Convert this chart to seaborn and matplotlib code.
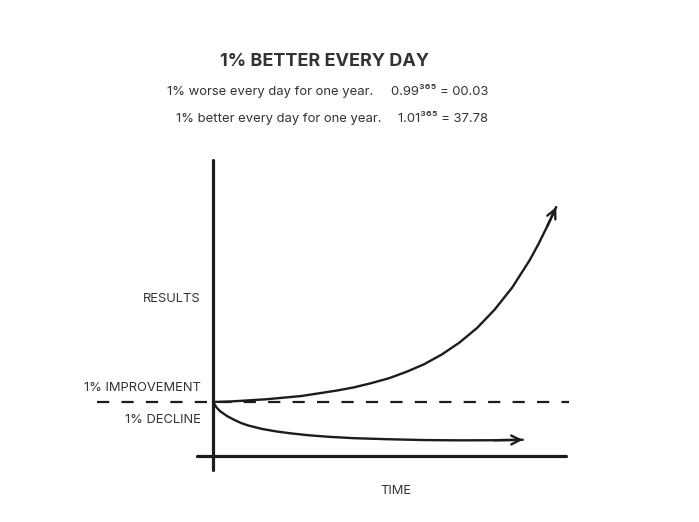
import matplotlib
matplotlib.use("Agg")
import matplotlib.pyplot as plt
import seaborn as sns

# values (time in % of a year, results relative to start = 1)
time_better = [0, 5, 10, 15, 20, 25, 30, 35, 40, 45, 50, 55, 60, 65, 70,
               75, 80, 85, 90, 92.5, 95, 97.5]
results_better = [1.0, 1.01, 1.03, 1.05, 1.08, 1.11, 1.16, 1.21, 1.27, 1.35,
                  1.44, 1.56, 1.70, 1.88, 2.10, 2.37, 2.71, 3.12, 3.63, 3.93,
                  4.26, 4.61]
time_worse = [0, 1, 2, 4, 6, 8, 10, 14, 18, 22, 27, 33, 40, 50, 60, 70, 80, 88]
results_worse = [1.0, 0.90, 0.83, 0.74, 0.67, 0.61, 0.565, 0.50, 0.455, 0.42,
                 0.385, 0.355, 0.33, 0.31, 0.295, 0.29, 0.292, 0.30]

title = "1% BETTER EVERY DAY"
line_worse = ("1% worse every day for one year.", "0.99³⁶⁵ = 00.03")
line_better = ("1% better every day for one year.", "1.01³⁶⁵ = 37.78")
axis_labels = {"x": "TIME", "y": "RESULTS"}
level_labels = ["1% IMPROVEMENT", "1% DECLINE"]

sns.set_theme(style="white")
plt.rcParams["font.family"] = ["Inter", "DejaVu Sans"]

ink = "#1c1c1c"
txt = "#333333"
W, H = 699, 522

fig = plt.figure(figsize=(W / 100, H / 100), dpi=100)
ax = fig.add_axes([0, 0, 1, 1])
# scale: x 0..100 -> px 213..565, y 0..1 -> px 456..402
ax.set_xlim(-213 / 3.52, (W - 213) / 3.52)
ax.set_ylim(-(H - 456) / 54, 456 / 54)
ax.axis("off")

# hand drawn axes
ax.plot([-4.5, 100.3], [0, 0], color=ink, lw=2.3, solid_capstyle="round")
ax.plot([0, 0], [-0.26, 5.48], color=ink, lw=2.3, solid_capstyle="round")
# baseline
ax.plot([-33, 101], [1, 1], color=ink, lw=1.6, dashes=(5.5, 5.5))

sns.lineplot(x=time_better, y=results_better, ax=ax, color=ink, lw=1.7,
             estimator=None, sort=False)
sns.lineplot(x=time_worse, y=results_worse, ax=ax, color=ink, lw=1.7,
             estimator=None, sort=False)

for tx, ry in [(time_better, results_better), (time_worse, results_worse)]:
    ax.annotate("", xy=(tx[-1], ry[-1]), xytext=(tx[-2], ry[-2]),
                arrowprops=dict(arrowstyle="->", lw=1.7, color=ink,
                                mutation_scale=16, shrinkA=0, shrinkB=0))


def ftext(x, y, s, **kw):
    fig.text(x / W, 1 - y / H, s, color=txt, va="center", **kw)


ftext(324, 61, title, ha="center", fontsize=13, fontweight="bold")
ftext(373, 92, line_worse[0], ha="right", fontsize=9.4)
ftext(391, 92, line_worse[1], ha="left", fontsize=9.4)
ftext(381, 119, line_better[0], ha="right", fontsize=9.4)
ftext(398, 119, line_better[1], ha="left", fontsize=9.4)

ftext(201, 299, axis_labels["y"], ha="right", fontsize=9.3)
ftext(201, 388, level_labels[0], ha="right", fontsize=9.3)
ftext(201, 420, level_labels[1], ha="right", fontsize=9.3)
ftext(396, 491, axis_labels["x"], ha="center", fontsize=9.3)

fig.savefig("out.png", dpi=100, facecolor="white")
